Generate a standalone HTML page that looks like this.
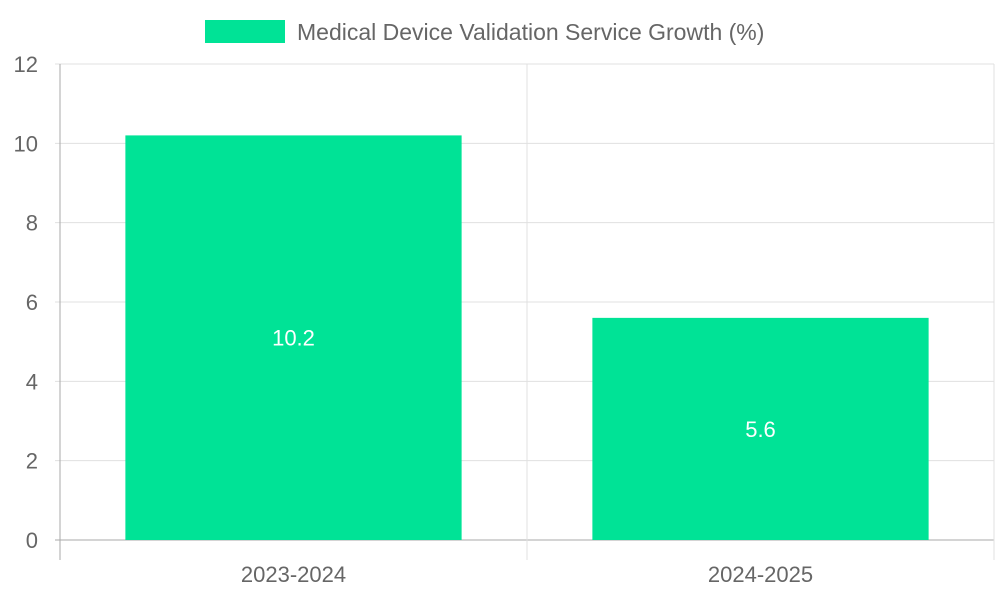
<!DOCTYPE html>
<html><head><meta charset="utf-8"><style>
body{margin:0;background:#fff;}
svg text{font-family:"Liberation Sans",sans-serif;}
</style></head><body>
<svg id="chart" width="1000" height="600"></svg>
<script>
const categories = ["2023-2024", "2024-2025"];
const values = [10.2, 5.6];
const yTicks = [0, 2, 4, 6, 8, 10, 12];
const seriesName = "Medical Device Validation Service Growth (%)";

const NS = "http://www.w3.org/2000/svg";
const svg = document.getElementById("chart");
const L = 60, R = 994, T = 64, B = 540, yMax = 12;
const y = v => B - (v / yMax) * (B - T);
const band = (R - L) / categories.length;
const x = i => L + band * i;
function mk(tag, attrs, parent) {
  const e = document.createElementNS(NS, tag);
  for (const k in attrs) e.setAttribute(k, attrs[k]);
  (parent || svg).appendChild(e);
  return e;
}

// horizontal grid + y labels
yTicks.forEach(t => {
  const ln = mk("line", {x1: L - 5, x2: R, y1: y(t), y2: y(t), stroke: t === 0 ? "#aaa" : "#e0e0e0", "stroke-width": 1});
  
  
  const tx = mk("text", {x: L - 22, y: y(t) + 8, "text-anchor": "end", "font-size": 22, fill: "#666"});
  tx.textContent = t;
  
  
});
// vertical grid
for (let i = 0; i <= categories.length; i++) {
  const ln = mk("line", {x1: x(i), x2: x(i), y1: T, y2: B + 20, stroke: i === 0 ? "#aaa" : "#e0e0e0", "stroke-width": 1});
  
  
}
// bars
categories.forEach((c, i) => {
  const bw = band * 0.72;
  const cx = x(i) + band / 2;
  const r = mk("rect", {x: cx - bw / 2, y: y(values[i]), width: bw, height: B - y(values[i]), fill: "#00e396"});
  
  
  const v = mk("text", {x: cx, y: (y(values[i]) + B) / 2 + 8, "text-anchor": "middle", "font-size": 22, fill: "#fff"});
  v.textContent = values[i];
  
  
  const xl = mk("text", {x: cx, y: B + 42, "text-anchor": "middle", "font-size": 22, fill: "#666"});
  xl.textContent = c;
  
  
});
// legend
const lg = mk("g", {});


mk("rect", {x: 205, y: 20, width: 80, height: 23, fill: "#00e396"}, lg);
const lt = mk("text", {x: 297, y: 40, "font-size": 23, fill: "#666"}, lg);
lt.textContent = seriesName;
</script>
</body></html>
